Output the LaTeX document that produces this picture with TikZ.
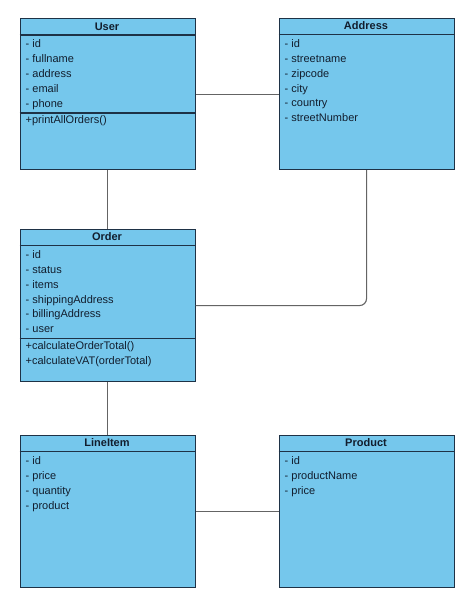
\documentclass[tikz,border=0pt]{standalone}
\usepackage{fontspec}
\setmainfont{Liberation Sans}
\definecolor{boxfill}{RGB}{117,199,236}
\definecolor{boxline}{RGB}{30,50,70}
\definecolor{txt}{RGB}{18,30,46}
\definecolor{conn}{RGB}{100,100,100}
\begin{document}
\begin{tikzpicture}[x=1pt,y=-1pt,
  classbox/.style={draw=boxline,fill=boxfill,line width=1.1pt,anchor=north west,inner sep=0pt,minimum width=175pt},
  sep/.style={draw=boxline,line width=1.1pt},
  attr/.style={anchor=west,inner sep=0pt,text height=7.8pt,text depth=0pt,font=\fontsize{11}{12}\selectfont,text=txt},
  ttl/.style={inner sep=0pt,text height=7.8pt,text depth=0pt,font=\bfseries\fontsize{11}{12}\selectfont,text=txt},
  link/.style={draw=conn,line width=1.1pt}]
\useasboundingbox (0,0) rectangle (474,603);
\fill[white] (0,0) rectangle (474,603);
% boxes
\node[classbox,minimum height=151pt] (user) at (19.5,18) {};
\node[classbox,minimum height=151pt] (address) at (278.5,18) {};
\node[classbox,minimum height=152pt] (order) at (19.5,229) {};
\node[classbox,minimum height=152pt] (lineitem) at (19.5,434.7) {};
\node[classbox,minimum height=152pt] (product) at (278.5,434.7) {};
% separators
\draw[sep] (user.north west) ++(0,17) -- ++(175,0);
\draw[sep] (user.north west) ++(0,95) -- ++(175,0);
\draw[sep] (address.north west) ++(0,16.5) -- ++(175,0);
\draw[sep] (order.north west) ++(0,16.7) -- ++(175,0);
\draw[sep] (order.north west) ++(0,109.7) -- ++(175,0);
\draw[sep] (lineitem.north west) ++(0,17) -- ++(175,0);
\draw[sep] (product.north west) ++(0,17) -- ++(175,0);
% titles
\node[ttl] (tuser) at (107,26.3) {User};
\node[ttl] (taddress) at (366,25.5) {Address};
\node[ttl] (torder) at (107,237) {Order};
\node[ttl] (tlineitem) at (107,443) {LineItem};
\node[ttl] (tproduct) at (366,443) {Product};
% User attributes
\node[attr] (u1) at (25.5,43.7) {- id};
\node[attr] (u2) at (25.5,58.6) {- fullname};
\node[attr] (u3) at (25.5,73.4) {- address};
\node[attr] (u4) at (25.5,88.4) {- email};
\node[attr] (u5) at (25.5,103.2) {- phone};
\node[attr] (u6) at (25.5,119.3) {+printAllOrders()};
% Address attributes
\node[attr] (a1) at (284.5,43.7) {- id};
\node[attr] (a2) at (284.5,58.4) {- streetname};
\node[attr] (a3) at (284.5,73.1) {- zipcode};
\node[attr] (a4) at (284.5,88.1) {- city};
\node[attr] (a5) at (284.5,102.8) {- country};
\node[attr] (a6) at (284.5,117.4) {- streetNumber};
% Order attributes
\node[attr] (o1) at (25.5,255) {- id};
\node[attr] (o2) at (25.5,270) {- status};
\node[attr] (o3) at (25.5,284.7) {- items};
\node[attr] (o4) at (25.5,299.3) {- shippingAddress};
\node[attr] (o5) at (25.5,314) {- billingAddress};
\node[attr] (o6) at (25.5,328.7) {- user};
\node[attr] (o7) at (25.5,345.5) {+calculateOrderTotal()};
\node[attr] (o8) at (25.5,360.5) {+calculateVAT(orderTotal)};
% LineItem attributes
\node[attr] (l1) at (25.5,461) {- id};
\node[attr] (l2) at (25.5,476) {- price};
\node[attr] (l3) at (25.5,490.7) {- quantity};
\node[attr] (l4) at (25.5,505.3) {- product};
% Product attributes
\node[attr] (p1) at (284.5,461) {- id};
\node[attr] (p2) at (284.5,476) {- productName};
\node[attr] (p3) at (284.5,490.7) {- price};
% connectors
\draw[link] (user.east) -- (address.west);
\draw[link] (user.south) -- (order.north);
\draw[link,rounded corners=7pt] (order.east) -| (address.south);
\draw[link] (order.south) -- (lineitem.north);
\draw[link] (lineitem.east) -- (product.west);
\end{tikzpicture}
\end{document}
